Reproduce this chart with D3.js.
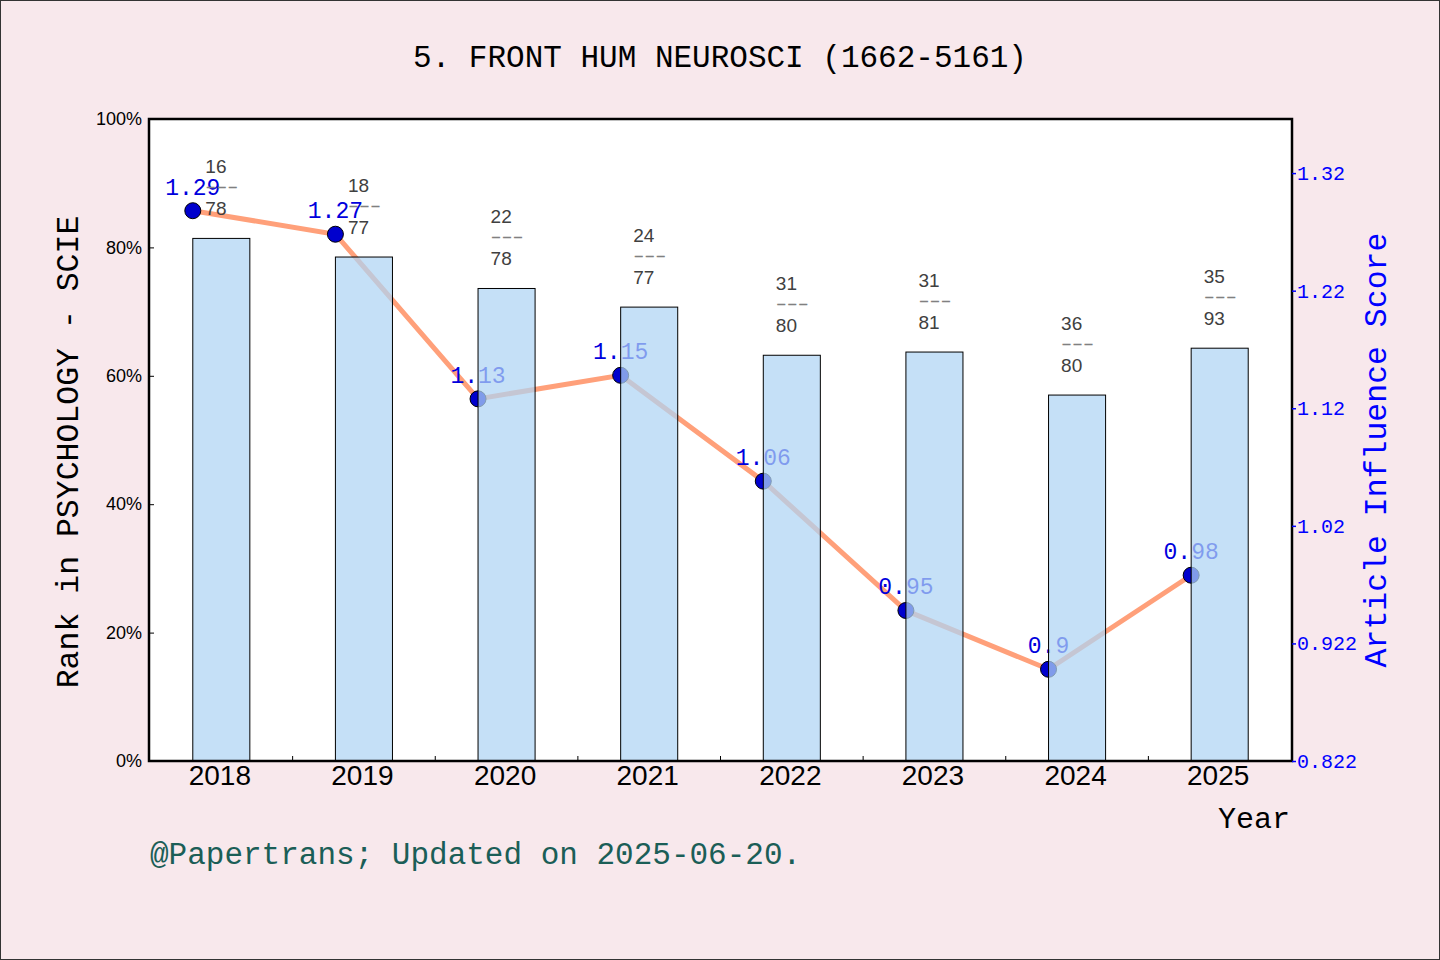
<!DOCTYPE html>
<html>
<head>
<meta charset="utf-8">
<script src="https://cdn.jsdelivr.net/npm/d3@7"></script>
<style>
  html, body { margin: 0; padding: 0; background: #f8e8ec; }
  svg { display: block; }
</style>
</head>
<body>
<svg id="chart" width="1440" height="960"></svg>
<script>
// ===== Data =====
const years     = [2018, 2019, 2020, 2021, 2022, 2023, 2024, 2025];
const rankPct   = [81.4, 78.5, 73.6, 70.7, 63.2, 63.7, 57.0, 64.3];
const rankPos   = [16, 18, 22, 24, 31, 31, 36, 35];
const rankTotal = [78, 77, 78, 77, 80, 81, 80, 93];
const aisValues = [1.29, 1.27, 1.13, 1.15, 1.06, 0.95, 0.9, 0.98];
const leftTicks  = [0, 20, 40, 60, 80, 100];
const rightTicks = [0.822, 0.922, 1.022, 1.122, 1.222, 1.322];

// ===== Layout =====
const plot = { left: 149, right: 1292, top: 119, bottom: 761 };
const mono = '"Liberation Mono", "DejaVu Sans Mono", monospace';
const sans = '"Liberation Sans", Arial, sans-serif';

const svg = d3.select('#chart');

// figure background + thin border
svg.append('rect')
    .attr('x', 0.5).attr('y', 0.5).attr('width', 1439).attr('height', 959)
    .attr('fill', '#f8e8ec').attr('stroke', '#333').attr('stroke-width', 1);

// plot background
svg.append('rect')
    .attr('x', plot.left).attr('y', plot.top)
    .attr('width', plot.right - plot.left).attr('height', plot.bottom - plot.top)
    .attr('fill', '#fff');

// ===== Scales =====
const x = d3.scaleBand()
    .domain(years)
    .range([plot.left + 1, plot.right - 1])
    .paddingInner(0.6)
    .paddingOuter(0.3);

const yLeft = d3.scaleLinear().domain([0, 100]).range([plot.bottom, plot.top]);
const yRight = d3.scaleLinear().domain([0.822, 1.368]).range([plot.bottom, plot.top]);

const rows = years.map((yr, i) => ({
    year: yr, pct: rankPct[i], pos: rankPos[i], total: rankTotal[i], ais: aisValues[i]
}));

// ===== Line + points (drawn beneath the translucent bars) =====
const line = d3.line()
    .x(d => x(d.year))
    .y(d => yRight(d.ais));

svg.append('path')
    .datum(rows)
    .attr('d', line)
    .attr('fill', 'none')
    .attr('stroke', '#ffa07a')
    .attr('stroke-width', 5);

svg.selectAll('circle.pt')
    .data(rows)
    .join('circle')
    .attr('class', 'pt')
    .attr('cx', d => x(d.year))
    .attr('cy', d => yRight(d.ais))
    .attr('r', 8)
    .attr('fill', '#0000cd')
    .attr('stroke', '#000')
    .attr('stroke-width', 1);

svg.selectAll('text.ais')
    .data(rows)
    .join('text')
    .attr('class', 'ais')
    .attr('x', d => x(d.year))
    .attr('y', d => yRight(d.ais) - 16)
    .attr('text-anchor', 'middle')
    .style('font-family', mono)
    .style('font-size', '23px')
    .style('fill', '#0000dd')
    .text(d => String(d.ais));

// ===== Bars =====
svg.selectAll('rect.bar')
    .data(rows)
    .join('rect')
    .attr('class', 'bar')
    .attr('x', d => x(d.year))
    .attr('y', d => yLeft(d.pct))
    .attr('width', x.bandwidth())
    .attr('height', d => yLeft(0) - yLeft(d.pct))
    .attr('fill', 'rgba(175,212,244,0.73)')
    .attr('stroke', '#000')
    .attr('stroke-width', 1);

// --- rank fraction labels above bars ---
const frac = svg.selectAll('g.frac')
    .data(rows)
    .join('g')
    .attr('class', 'frac')
    .attr('transform', d => `translate(${x(d.year) + x.bandwidth() / 2 - 16},${yLeft(d.pct)})`)
    .style('font-family', sans)
    .style('font-size', '19px');

frac.append('text').attr('y', -65).style('fill', '#404040').text(d => d.pos);
frac.append('text')
    .attr('y', -45)
    .attr('textLength', 33)
    .attr('lengthAdjust', 'spacingAndGlyphs')
    .style('fill', '#808080')
    .text('---');
frac.append('text').attr('y', -23).style('fill', '#404040').text(d => d.total);

// ===== Frame =====
svg.append('rect')
    .attr('x', plot.left).attr('y', plot.top)
    .attr('width', plot.right - plot.left).attr('height', plot.bottom - plot.top)
    .attr('fill', 'none')
    .attr('stroke', '#000')
    .attr('stroke-width', 2.5);

// ===== Axes =====
const leftAxis = svg.append('g')
    .attr('transform', `translate(${plot.left},0)`)
    .call(d3.axisLeft(yLeft)
        .tickValues(leftTicks)
        .tickFormat(d => d + '%')
        .tickSizeInner(-5)
        .tickSizeOuter(0)
        .tickPadding(7));
leftAxis.select('.domain').remove();
leftAxis.selectAll('line').attr('stroke', '#000').attr('stroke-width', 1);
leftAxis.selectAll('text')
    .style('font-family', sans)
    .style('font-size', '18px')
    .style('fill', '#000');

const rightAxis = svg.append('g')
    .attr('transform', `translate(${plot.right},0)`)
    .call(d3.axisRight(yRight)
        .tickValues(rightTicks)
        .tickFormat(d3.format('.3'))
        .tickSizeInner(4)
        .tickSizeOuter(0)
        .tickPadding(1));
rightAxis.select('.domain').remove();
rightAxis.selectAll('line').attr('stroke', '#0000ff').attr('stroke-width', 1.5);
rightAxis.selectAll('text')
    .style('font-family', mono)
    .style('font-size', '20px')
    .style('fill', '#0000ff');

const bottomAxis = svg.append('g')
    .attr('transform', `translate(0,${plot.bottom})`)
    .call(d3.axisBottom(x).tickSize(0).tickPadding(0));
bottomAxis.select('.domain').remove();
bottomAxis.selectAll('text')
    .attr('x', -1.5)
    .attr('y', 24)
    .attr('dy', 0)
    .style('font-family', sans)
    .style('font-size', '28px')
    .style('fill', '#000');

// minor ticks between years (inward)
svg.selectAll('line.minor')
    .data(years.slice(0, -1))
    .join('line')
    .attr('class', 'minor')
    .attr('x1', d => x(d) + x.bandwidth() / 2 + x.step() / 2)
    .attr('x2', d => x(d) + x.bandwidth() / 2 + x.step() / 2)
    .attr('y1', plot.bottom)
    .attr('y2', plot.bottom - 5)
    .attr('stroke', '#000')
    .attr('stroke-width', 1);

// ===== Titles & labels =====
svg.append('text')
    .attr('x', 720).attr('y', 67)
    .attr('text-anchor', 'middle')
    .style('font-family', mono)
    .style('font-size', '31px')
    .style('fill', '#000')
    .text('5. FRONT HUM NEUROSCI (1662-5161)');

svg.append('text')
    .attr('transform', 'translate(78,452) rotate(-90)')
    .attr('text-anchor', 'middle')
    .style('font-family', mono)
    .style('font-size', '31.5px')
    .style('fill', '#000')
    .text('Rank in PSYCHOLOGY - SCIE');

svg.append('text')
    .attr('transform', 'translate(1386,450) rotate(-90)')
    .attr('text-anchor', 'middle')
    .style('font-family', mono)
    .style('font-size', '31.5px')
    .style('fill', '#0000ff')
    .text('Article Influence Score');

svg.append('text')
    .attr('x', 1290).attr('y', 828)
    .attr('text-anchor', 'end')
    .style('font-family', mono)
    .style('font-size', '30px')
    .style('fill', '#000')
    .text('Year');

svg.append('text')
    .attr('x', 150).attr('y', 864)
    .style('font-family', mono)
    .style('font-size', '31px')
    .style('fill', '#1b5e57')
    .text('@Papertrans; Updated on 2025-06-20.');
</script>
</body>
</html>
